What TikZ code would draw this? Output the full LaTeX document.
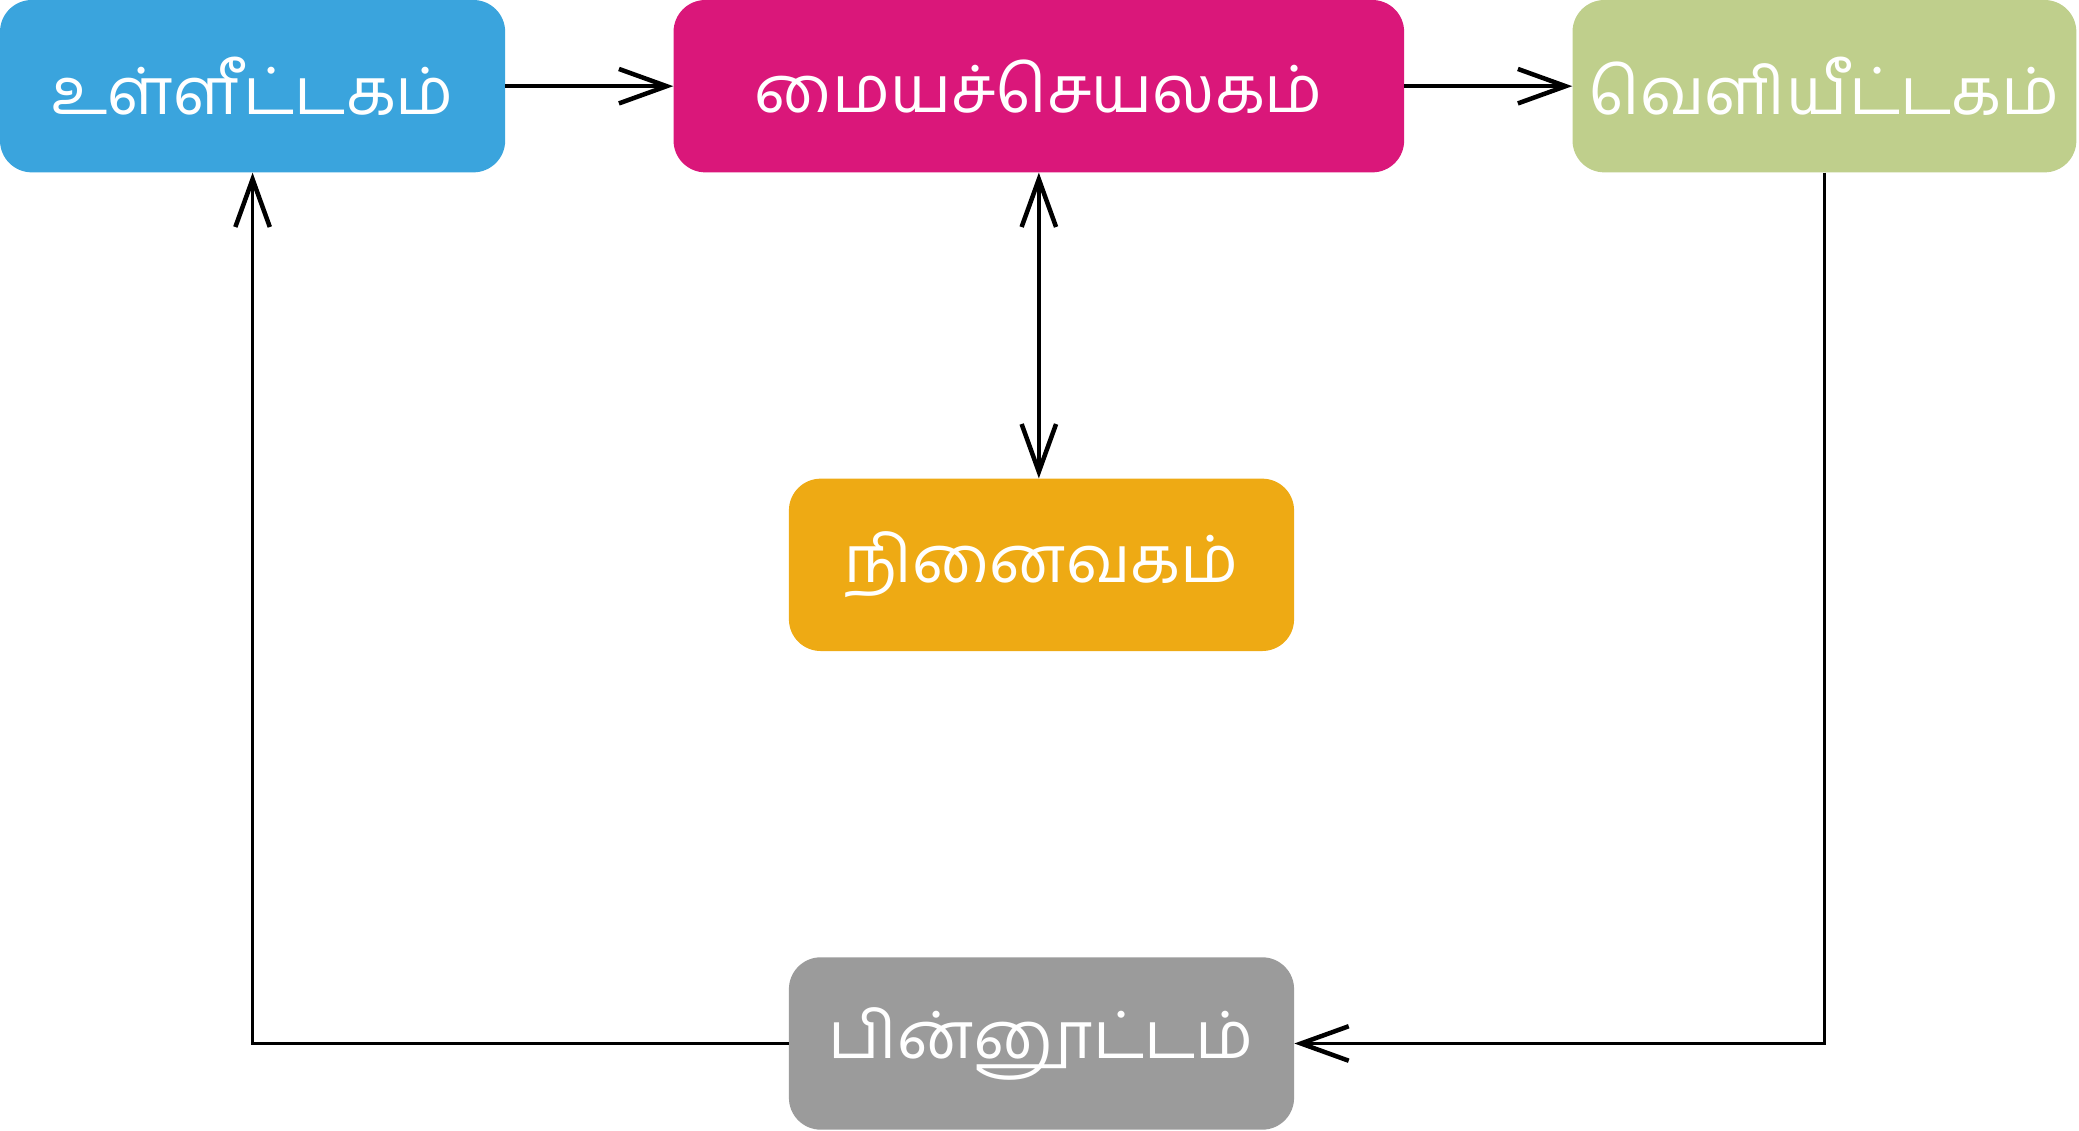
\documentclass[tikz,border=0pt]{standalone}
\usepackage{fontspec}
\newfontfamily\tamilfont[Script=Tamil]{Hind Madurai}
\usetikzlibrary{arrows.meta}
\definecolor{cBlue}{HTML}{3AA4DD}
\definecolor{cMag}{HTML}{DA177A}
\definecolor{cGreen}{HTML}{BFCF8C}
\definecolor{cOrange}{HTML}{EEAA14}
\definecolor{cGray}{HTML}{9B9B9B}
\tikzset{
  unitbox/.style={fill=#1, draw=none, rounded corners=24pt, minimum height=130pt,
    inner sep=0pt, text=white, font=\tamilfont\fontsize{49}{56}\selectfont},
  conn/.style={line width=2.6pt, draw=black},
  tipend/.style={-{Straight Barb[length=36pt,width=26pt,line width=3.4pt]}},
  tipboth/.style={{Straight Barb[length=36pt,width=26pt,line width=3.4pt]}-{Straight Barb[length=36pt,width=26pt,line width=3.4pt]}}
}
\begin{document}
\begin{tikzpicture}[x=1pt,y=-1pt]
\useasboundingbox (0,0) rectangle (1568,853);
\node[unitbox=cBlue, minimum width=381pt] (inp) at (190.5,65) {உள்ளீட்டகம்};
\node[unitbox=cMag, minimum width=551pt] (cpu) at (783.5,65) {மையச்செயலகம்};
\node[unitbox=cGreen, minimum width=380pt] (out) at (1376,65) {வெளியீட்டகம்};
\node[unitbox=cOrange, minimum width=381pt] (mem) at (785.5,426) {நினைவகம்};
\node[unitbox=cGray, minimum width=381pt] (fb) at (785.5,787) {பின்னூட்டம்};
\draw[conn,tipend] (inp.east) -- (cpu.west);
\draw[conn,tipend] (cpu.east) -- (out.west);
\draw[conn,tipboth] (cpu.south) -- (cpu.south |- mem.north);
\draw[conn,tipend] (out.south) |- (fb.east);
\draw[conn,tipend] (fb.west) -| (inp.south);
\end{tikzpicture}
\end{document}
